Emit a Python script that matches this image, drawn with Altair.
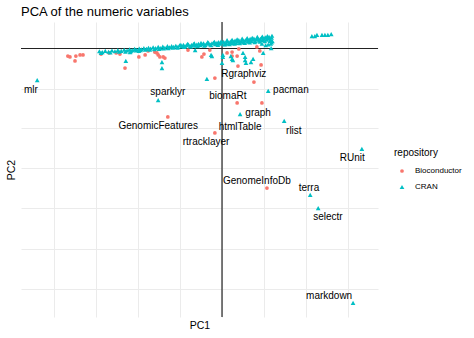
import altair as alt
import pandas as pd

# ---- data (PC1, PC2) ----
bioc_points = [
    (-3.67, -0.19), (-3.62, -0.21), (-3.48, -0.19), (-3.50, -0.31), (-3.38, -0.16),
    (-3.31, -0.16), (-2.88, -0.14), (-2.69, -0.11), (-2.52, -0.11), (-2.43, -0.14),
    (-2.31, -0.49), (-1.98, -0.21), (-1.83, -0.16), (-1.60, -0.09), (-1.52, -0.16),
    (-1.48, -0.21), (-1.40, -0.21), (-1.36, -0.24), (-1.55, -0.11), (-1.29, -1.71),
    (-0.48, -0.21), (-0.43, -0.14), (-0.17, -0.74), (0.12, -0.11), (0.24, -0.19),
    (0.24, -0.09), (0.36, -0.19), (0.38, -0.44), (0.40, -0.01), (0.83, 0.04),
    (0.90, -0.06), (0.93, -0.41), (0.76, -0.84), (0.36, -1.36), (0.95, -1.36),
    (-0.17, -2.11), (1.07, -3.49), (-1.76, -0.06), (-0.81, -0.04), (-0.29, -0.04),
]

cran_labeled_points = [
    (-4.40, -0.79), (-1.52, -1.29), (1.10, -1.06), (0.43, -1.64), (1.48, -1.81),
    (3.33, -2.51), (2.10, -3.66), (2.29, -3.99), (3.12, -6.36),
]

cran_other_points = [
    (-2.29, -0.31), (-1.43, -0.34), (-1.43, -0.49), (-0.36, -0.76), (-0.26, -0.16),
    (-0.24, -0.19), (0.00, -0.36), (0.02, -0.16), (0.02, -0.21), (0.21, -0.19),
    (0.24, -0.26), (0.26, -0.29), (0.50, -0.11), (0.55, -0.21), (0.55, -0.29),
    (0.57, -0.36), (0.69, -0.34), (0.74, -0.26), (0.98, -0.11), (1.17, 0.01),
    (-0.64, -0.04), (-2.19, -0.09), (-1.98, -0.06),
    (2.14, 0.31), (2.21, 0.31), (2.26, 0.34), (2.38, 0.34), (2.45, 0.34),
    (2.52, 0.34), (2.60, 0.36),
]

cran_band_points = [
    (-2.92, -0.07), (-2.85, -0.09), (-2.78, -0.06), (-2.70, -0.08), (-2.62, -0.05),
    (-2.55, -0.07), (-2.48, -0.04), (-2.40, -0.06), (-2.33, -0.03), (-2.26, -0.05),
    (-2.20, -0.02), (-2.14, -0.04), (-2.08, -0.01), (-2.03, -0.03),
    (-1.97, 0.00), (-1.92, -0.02), (-1.86, 0.01), (-1.80, -0.01), (-1.75, 0.02),
    (-1.70, 0.00), (-1.64, 0.03), (-1.58, 0.01), (-1.52, 0.04), (-1.47, 0.01),
    (-1.41, 0.05), (-1.36, 0.02), (-1.30, 0.06), (-1.25, 0.03), (-1.20, 0.06),
    (-1.15, 0.04), (-1.10, 0.07), (-1.05, 0.04), (-1.01, 0.08),
    (-0.96, 0.05), (-0.92, 0.09), (-0.88, 0.06), (-0.84, 0.08), (-0.80, 0.10),
    (-0.76, 0.06), (-0.72, 0.09), (-0.68, 0.11), (-0.64, 0.07), (-0.60, 0.10),
    (-0.56, 0.12), (-0.52, 0.08), (-0.48, 0.11), (-0.44, 0.13), (-0.40, 0.09),
    (-0.36, 0.12), (-0.32, 0.14), (-0.28, 0.10), (-0.24, 0.13), (-0.20, 0.15),
    (-0.16, 0.11), (-0.12, 0.14), (-0.08, 0.16), (-0.04, 0.12), (0.00, 0.15),
    (0.04, 0.17), (0.07, 0.11), (0.10, 0.14), (0.13, 0.18), (0.16, 0.12),
    (0.19, 0.16), (0.22, 0.19), (0.25, 0.13), (0.28, 0.17), (0.31, 0.20),
    (0.34, 0.14), (0.37, 0.18), (0.40, 0.21), (0.43, 0.15), (0.46, 0.19),
    (0.49, 0.22), (0.52, 0.16), (0.55, 0.20), (0.58, 0.23), (0.61, 0.17),
    (0.64, 0.21), (0.67, 0.24), (0.70, 0.18), (0.73, 0.22), (0.76, 0.25),
    (0.79, 0.19), (0.82, 0.23), (0.85, 0.26), (0.88, 0.20), (0.91, 0.24),
    (0.94, 0.27), (0.97, 0.21), (1.00, 0.25), (1.03, 0.28), (1.06, 0.22),
    (1.09, 0.26), (1.12, 0.29), (1.15, 0.23), (1.18, 0.27), (1.20, 0.18),
    (1.18, 0.15),
    (-2.88, -0.11), (-2.66, -0.10), (-2.45, -0.08), (-2.30, -0.08), (-2.17, -0.07),
    (-2.05, -0.05), (-1.94, -0.04), (-1.83, -0.03), (-1.72, -0.03), (-1.61, -0.02),
    (-1.50, -0.01), (-1.39, 0.00), (-1.28, 0.01), (-1.17, 0.02), (-1.06, 0.02),
    (-0.98, 0.09), (-0.90, 0.04), (-0.82, 0.12), (-0.74, 0.05), (-0.66, 0.13),
    (-0.58, 0.06), (-0.50, 0.14), (-0.42, 0.07), (-0.34, 0.16), (-0.26, 0.08),
    (-0.18, 0.17), (-0.10, 0.09), (-0.02, 0.18), (0.06, 0.10), (0.12, 0.21),
    (0.18, 0.11), (0.24, 0.22), (0.30, 0.12), (0.36, 0.23), (0.42, 0.13),
    (0.48, 0.25), (0.54, 0.14), (0.60, 0.26), (0.66, 0.15), (0.72, 0.27),
    (0.78, 0.16), (0.84, 0.29), (0.90, 0.17), (0.96, 0.30), (1.02, 0.18),
    (1.08, 0.31), (1.14, 0.19), (1.19, 0.32), (1.16, 0.12), (1.10, 0.10),
    (1.04, 0.08), (0.95, 0.12),
]

label_names = ["mlr", "sparklyr", "biomaRt", "Rgraphviz", "pacman", "graph",
               "htmlTable", "rtracklayer", "GenomicFeatures", "rlist", "RUnit",
               "GenomeInfoDb", "terra", "selectr", "markdown"]
label_pc1 = [-4.55, -1.29, 0.14, 0.52, 1.64, 0.86, 0.43, -0.38, -1.52, 1.71, 3.10,
             0.83, 2.07, 2.52, 2.55]
label_pc2 = [-1.04, -1.09, -1.19, -0.64, -1.04, -1.61, -1.96, -2.34, -1.94, -2.06,
             -2.74, -3.31, -3.49, -4.21, -6.19]

repos = ["Bioconductor", "CRAN"]
repo_colors = ["#F8766D", "#00BFC4"]

# ---- tables ----
rows = [{"PC1": x, "PC2": y, "repository": "Bioconductor"} for x, y in bioc_points]
for group in (cran_band_points, cran_other_points, cran_labeled_points):
    rows += [{"PC1": x, "PC2": y, "repository": "CRAN"} for x, y in group]
points_df = pd.DataFrame(rows)
labels_df = pd.DataFrame({"PC1": label_pc1, "PC2": label_pc2, "label": label_names})

FONT = "Liberation Sans"

def xenc():
    return alt.X("PC1:Q",
                 scale=alt.Scale(domain=[-4.786, 3.714], nice=False, zero=False),
                 axis=alt.Axis(values=[-4, -3, -2, -1, 0, 1, 2, 3], labels=False,
                               ticks=False, domain=False, grid=True, title="PC1",
                               titlePadding=3))

def yenc():
    return alt.Y("PC2:Q",
                 scale=alt.Scale(domain=[-6.7125, 0.6625], nice=False, zero=False),
                 axis=alt.Axis(values=[-6, -5, -4, -3, -2, -1, 0], labels=False,
                               ticks=False, domain=False, grid=True, title="PC2",
                               titlePadding=5))

leg = alt.Legend(title="repository", orient="none", legendX=373, legendY=126,
                 titleFontSize=10, titleFontWeight="normal", titleColor="black",
                 labelFontSize=8, labelColor="black", symbolSize=18, rowPadding=8,
                 titlePadding=9, symbolOffset=4, labelOffset=9, titleFont=FONT,
                 labelFont=FONT)

vline = alt.Chart(pd.DataFrame({"PC1": [0]})).mark_rule(
    color="#222222", strokeWidth=1.2).encode(x=xenc())
hline = alt.Chart(pd.DataFrame({"PC2": [0]})).mark_rule(
    color="#222222", strokeWidth=1.2).encode(y=yenc())

pts = alt.Chart(points_df).mark_point(filled=True, opacity=1).encode(
    x=xenc(),
    y=yenc(),
    color=alt.Color("repository:N", scale=alt.Scale(domain=repos, range=repo_colors),
                    legend=leg),
    shape=alt.Shape("repository:N",
                    scale=alt.Scale(domain=repos, range=["circle", "triangle-up"]),
                    legend=leg),
    size=alt.Size("repository:N", scale=alt.Scale(domain=repos, range=[14, 22]),
                  legend=None),
)

txt = alt.Chart(labels_df).mark_text(
    fontSize=10, font=FONT, color="black", baseline="middle", align="center"
).encode(x=xenc(), y=yenc(), text="label:N")

chart = alt.layer(vline, hline, pts, txt).properties(
    width=357, height=295,
    autosize=alt.AutoSizeParams(type="none"),
    padding={"left": 21, "top": 22, "right": 96, "bottom": 21},
    title=alt.Title("PCA of the numeric variables", anchor="start", frame="group",
                    fontSize=13, fontWeight="normal", color="black", offset=2,
                    font=FONT),
).configure(font=FONT, background="white").configure_view(stroke=None).configure_axis(
    gridColor="#EBEBEB", gridWidth=1, titleFontSize=10.5, titleFontWeight="normal",
    titleColor="black", titleFont=FONT
)

chart.save("out.html", embed_options={"renderer": "svg", "actions": False})
